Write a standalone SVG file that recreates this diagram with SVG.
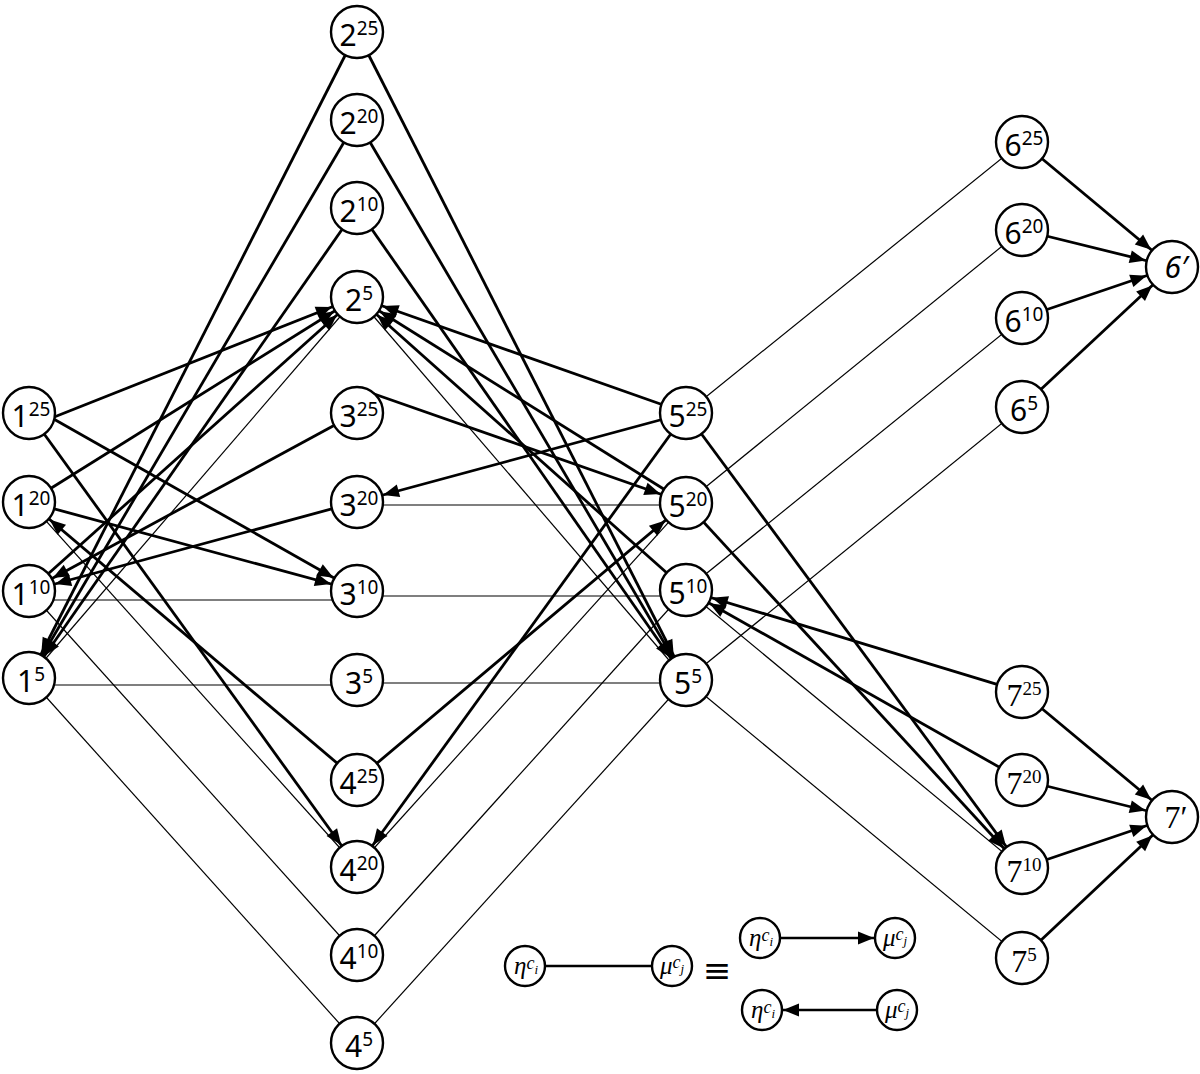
<svg xmlns="http://www.w3.org/2000/svg" width="1200" height="1074" viewBox="0 0 1200 1074">
<style>
.d{stroke:#000;stroke-width:2.8;marker-end:url(#ah)}
.u{stroke:#000;stroke-width:1.2}
.lg{stroke:#000;stroke-width:2.4}
.lgd{stroke:#000;stroke-width:2.4;marker-end:url(#ahL)}
circle{fill:#fff;stroke:#000;stroke-width:2.4}
.lb{font-family:"Noto Sans",sans-serif;font-size:30px;text-anchor:middle;fill:#000}
.sr{font-family:"Liberation Serif",serif;font-size:32px}
.sp{font-size:19px}
.it{font-style:italic}
.mt{font-family:"Liberation Serif",serif;font-style:italic;font-size:25px;text-anchor:middle}
.ms{font-size:18px}
.mb{font-size:13px}
</style>
<defs>
<marker id="ah" markerUnits="userSpaceOnUse" markerWidth="16" markerHeight="13" refX="43" refY="6.5" orient="auto" overflow="visible"><path d="M0,0 L16,6.5 L0,13 z" fill="#000"/></marker>
<marker id="ahL" markerUnits="userSpaceOnUse" markerWidth="16" markerHeight="13" refX="37" refY="6.5" orient="auto" overflow="visible"><path d="M0,0 L16,6.5 L0,13 z" fill="#000"/></marker>
</defs>
<g id="connectors">
<line class="d" x1="29" y1="427" x2="357" y2="297"/>
<line class="d" x1="29" y1="502" x2="357" y2="297"/>
<line class="d" x1="29" y1="591" x2="357" y2="297"/>
<line class="d" x1="29" y1="405" x2="357" y2="591"/>
<line class="d" x1="29" y1="502" x2="357" y2="591"/>
<line class="d" x1="29" y1="413" x2="357" y2="867"/>
<line class="d" x1="357" y1="780" x2="29" y2="502"/>
<line class="d" x1="357" y1="32" x2="29" y2="678"/>
<line class="d" x1="357" y1="120" x2="29" y2="678"/>
<line class="d" x1="357" y1="208" x2="29" y2="678"/>
<line class="d" x1="357" y1="413" x2="29" y2="591"/>
<line class="d" x1="357" y1="502" x2="29" y2="591"/>
<line class="d" x1="357" y1="32" x2="686" y2="680"/>
<line class="d" x1="357" y1="120" x2="686" y2="680"/>
<line class="d" x1="357" y1="208" x2="686" y2="680"/>
<line class="d" x1="686" y1="413" x2="357" y2="297"/>
<line class="d" x1="686" y1="503" x2="357" y2="297"/>
<line class="d" x1="686" y1="590" x2="357" y2="297"/>
<line class="d" x1="686" y1="413" x2="357" y2="502"/>
<line class="d" x1="357" y1="388" x2="686" y2="503"/>
<line class="d" x1="357" y1="780" x2="686" y2="503"/>
<line class="d" x1="686" y1="413" x2="357" y2="867"/>
<line class="d" x1="686" y1="413" x2="1022" y2="868"/>
<line class="d" x1="686" y1="503" x2="1022" y2="868"/>
<line class="d" x1="1022" y1="692" x2="686" y2="590"/>
<line class="d" x1="1022" y1="780" x2="686" y2="590"/>
<line class="d" x1="1022" y1="142" x2="1172" y2="267"/>
<line class="d" x1="1022" y1="230" x2="1172" y2="267"/>
<line class="d" x1="1022" y1="318" x2="1172" y2="267"/>
<line class="d" x1="1022" y1="407" x2="1172" y2="267"/>
<line class="d" x1="1022" y1="692" x2="1172" y2="817"/>
<line class="d" x1="1022" y1="780" x2="1172" y2="817"/>
<line class="d" x1="1022" y1="868" x2="1172" y2="817"/>
<line class="d" x1="1022" y1="958" x2="1172" y2="817"/>
<line class="u" x1="29" y1="600" x2="357" y2="600"/>
<line class="u" x1="357" y1="596" x2="686" y2="596"/>
<line class="u" x1="29" y1="685" x2="357" y2="685"/>
<line class="u" x1="357" y1="683" x2="686" y2="683"/>
<line class="u" x1="357" y1="505" x2="686" y2="505"/>
<line class="u" x1="29" y1="678" x2="357" y2="297"/>
<line class="u" x1="357" y1="297" x2="686" y2="680"/>
<line class="u" x1="29" y1="502" x2="357" y2="867"/>
<line class="u" x1="29" y1="591" x2="357" y2="955"/>
<line class="u" x1="29" y1="678" x2="357" y2="1043"/>
<line class="u" x1="357" y1="867" x2="686" y2="503"/>
<line class="u" x1="357" y1="955" x2="686" y2="590"/>
<line class="u" x1="357" y1="1043" x2="686" y2="680"/>
<line class="u" x1="686" y1="413" x2="1022" y2="142"/>
<line class="u" x1="686" y1="503" x2="1022" y2="230"/>
<line class="u" x1="686" y1="590" x2="1022" y2="318"/>
<line class="u" x1="686" y1="680" x2="1022" y2="407"/>
<line class="u" x1="686" y1="590" x2="1022" y2="868"/>
<line class="u" x1="686" y1="680" x2="1022" y2="958"/>
<line class="lg" x1="525" y1="966" x2="672" y2="966"/>
<line class="lgd" x1="760" y1="938" x2="895" y2="938"/>
<line class="lgd" x1="897" y1="1010" x2="762" y2="1010"/>
</g>
<g id="nodes">
<g id="n1-25"><circle cx="29" cy="413" r="26"/><text class="lb" x="31" y="427">1<tspan class="sp" dy="-11">25</tspan></text></g>
<g id="n1-20"><circle cx="29" cy="502" r="26"/><text class="lb" x="31" y="516">1<tspan class="sp" dy="-11">20</tspan></text></g>
<g id="n1-10"><circle cx="29" cy="591" r="26"/><text class="lb" x="31" y="605">1<tspan class="sp" dy="-11">10</tspan></text></g>
<g id="n1-5"><circle cx="29" cy="678" r="26"/><text class="lb" x="31" y="692">1<tspan class="sp" dy="-11">5</tspan></text></g>
<g id="n2-25"><circle cx="357" cy="32" r="26"/><text class="lb" x="359" y="46">2<tspan class="sp" dy="-11">25</tspan></text></g>
<g id="n2-20"><circle cx="357" cy="120" r="26"/><text class="lb" x="359" y="134">2<tspan class="sp" dy="-11">20</tspan></text></g>
<g id="n2-10"><circle cx="357" cy="208" r="26"/><text class="lb" x="359" y="222">2<tspan class="sp" dy="-11">10</tspan></text></g>
<g id="n2-5"><circle cx="357" cy="297" r="26"/><text class="lb" x="359" y="311">2<tspan class="sp" dy="-11">5</tspan></text></g>
<g id="n3-25"><circle cx="357" cy="413" r="26"/><text class="lb" x="359" y="427">3<tspan class="sp" dy="-11">25</tspan></text></g>
<g id="n3-20"><circle cx="357" cy="502" r="26"/><text class="lb" x="359" y="516">3<tspan class="sp" dy="-11">20</tspan></text></g>
<g id="n3-10"><circle cx="357" cy="591" r="26"/><text class="lb" x="359" y="605">3<tspan class="sp" dy="-11">10</tspan></text></g>
<g id="n3-5"><circle cx="357" cy="680" r="26"/><text class="lb" x="359" y="694">3<tspan class="sp" dy="-11">5</tspan></text></g>
<g id="n4-25"><circle cx="357" cy="780" r="26"/><text class="lb" x="359" y="794">4<tspan class="sp" dy="-11">25</tspan></text></g>
<g id="n4-20"><circle cx="357" cy="867" r="26"/><text class="lb" x="359" y="881">4<tspan class="sp" dy="-11">20</tspan></text></g>
<g id="n4-10"><circle cx="357" cy="955" r="26"/><text class="lb" x="359" y="969">4<tspan class="sp" dy="-11">10</tspan></text></g>
<g id="n4-5"><circle cx="357" cy="1043" r="26"/><text class="lb" x="359" y="1057">4<tspan class="sp" dy="-11">5</tspan></text></g>
<g id="n5-25"><circle cx="686" cy="413" r="26"/><text class="lb" x="688" y="427">5<tspan class="sp" dy="-11">25</tspan></text></g>
<g id="n5-20"><circle cx="686" cy="503" r="26"/><text class="lb" x="688" y="517">5<tspan class="sp" dy="-11">20</tspan></text></g>
<g id="n5-10"><circle cx="686" cy="590" r="26"/><text class="lb" x="688" y="604">5<tspan class="sp" dy="-11">10</tspan></text></g>
<g id="n5-5"><circle cx="686" cy="680" r="26"/><text class="lb" x="688" y="694">5<tspan class="sp" dy="-11">5</tspan></text></g>
<g id="n6-25"><circle cx="1022" cy="142" r="26"/><text class="lb" x="1024" y="156">6<tspan class="sp" dy="-11">25</tspan></text></g>
<g id="n6-20"><circle cx="1022" cy="230" r="26"/><text class="lb" x="1024" y="244">6<tspan class="sp" dy="-11">20</tspan></text></g>
<g id="n6-10"><circle cx="1022" cy="318" r="26"/><text class="lb" x="1024" y="332">6<tspan class="sp" dy="-11">10</tspan></text></g>
<g id="n6-5"><circle cx="1022" cy="407" r="26"/><text class="lb" x="1024" y="421">6<tspan class="sp" dy="-11">5</tspan></text></g>
<g id="n6p"><circle cx="1172" cy="267" r="26"/><text class="lb it" x="1176" y="278">6′</text></g>
<g id="n7-25"><circle cx="1022" cy="692" r="26"/><text class="lb sr" x="1024" y="706">7<tspan class="sp" dy="-11">25</tspan></text></g>
<g id="n7-20"><circle cx="1022" cy="780" r="26"/><text class="lb sr" x="1024" y="794">7<tspan class="sp" dy="-11">20</tspan></text></g>
<g id="n7-10"><circle cx="1022" cy="868" r="26"/><text class="lb sr" x="1024" y="882">7<tspan class="sp" dy="-11">10</tspan></text></g>
<g id="n7-5"><circle cx="1022" cy="958" r="26"/><text class="lb sr" x="1024" y="972">7<tspan class="sp" dy="-11">5</tspan></text></g>
<g id="n7p"><circle cx="1172" cy="817" r="26"/><text class="lb sr" x="1176" y="828">7′</text></g>
</g>
<g id="legend">
<g id="lg-eta1"><circle cx="525" cy="966" r="20"/><text class="mt" x="526" y="974">η<tspan class="ms" dy="-5">c</tspan><tspan class="mb" dy="5">i</tspan></text></g>
<g id="lg-mu1"><circle cx="672" cy="966" r="20"/><text class="mt" x="672" y="974">μ<tspan class="ms" dy="-6">c</tspan><tspan class="mb" dy="5">j</tspan></text></g>
<text x="717" y="982" style="font-family:'DejaVu Sans',sans-serif;font-size:34px;text-anchor:middle">≡</text>
<g id="lg-eta2"><circle cx="760" cy="938" r="20"/><text class="mt" x="761" y="946">η<tspan class="ms" dy="-5">c</tspan><tspan class="mb" dy="5">i</tspan></text></g>
<g id="lg-mu2"><circle cx="895" cy="938" r="20"/><text class="mt" x="895" y="946">μ<tspan class="ms" dy="-6">c</tspan><tspan class="mb" dy="5">j</tspan></text></g>
<g id="lg-eta3"><circle cx="762" cy="1010" r="20"/><text class="mt" x="763" y="1018">η<tspan class="ms" dy="-5">c</tspan><tspan class="mb" dy="5">i</tspan></text></g>
<g id="lg-mu3"><circle cx="897" cy="1010" r="20"/><text class="mt" x="897" y="1018">μ<tspan class="ms" dy="-6">c</tspan><tspan class="mb" dy="5">j</tspan></text></g>
</g>
</svg>
